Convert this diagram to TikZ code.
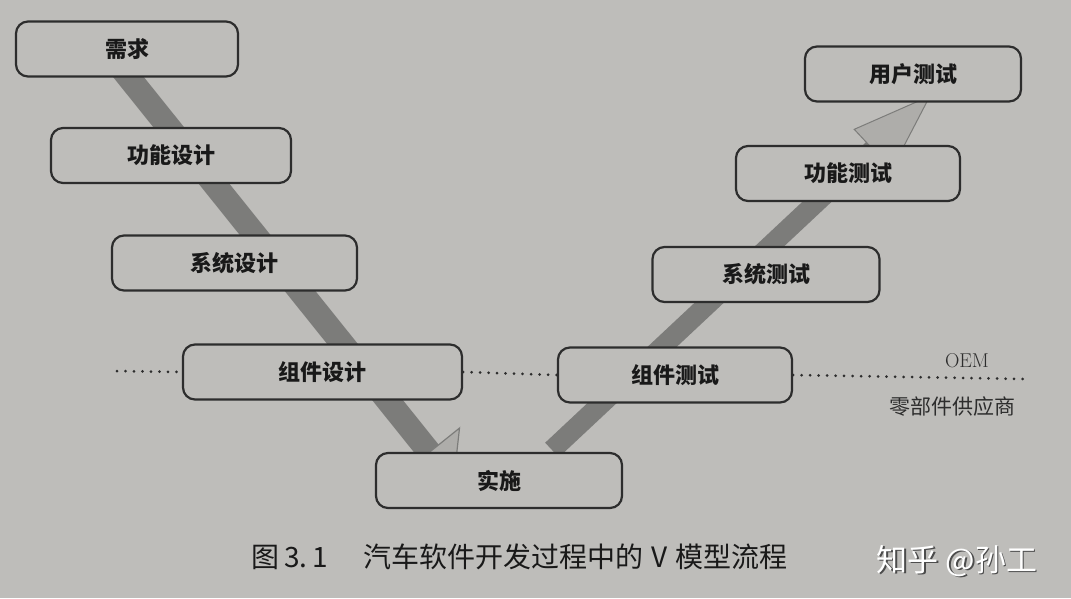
\documentclass[tikz,border=0pt]{standalone}
\usepackage{fontspec}
\newfontfamily\cjk{Noto Sans CJK SC}
\usetikzlibrary{arrows.meta,backgrounds}

\definecolor{paper}{RGB}{190,189,186}
\definecolor{ink}{RGB}{45,45,45}
\definecolor{vband}{RGB}{124,124,122}
\definecolor{vhead}{RGB}{174,173,170}

\tikzset{
  stage/.style={draw=ink, line width=2.2pt, rounded corners=12pt, fill=paper,
    minimum height=55pt, inner sep=0pt, text=black!90,
    font=\cjk\bfseries\fontsize{22}{26}\selectfont},
  oemline/.style={ink, line width=3pt, line cap=round, dash pattern=on 0pt off 8.5pt},
  vleg/.style={vband, line width=#1},
}

\begin{document}
\begin{tikzpicture}[x=1pt,y=-1pt]

	\useasboundingbox (0,0) rectangle (1071,598);
	\begin{pgfonlayer}{background}
	  \fill[paper] (0,0) rectangle (1071,598);
	\end{pgfonlayer}

	% left side of the V: design steps
	\node[stage, minimum width=222pt] (xq) at (127,49) {需求};
	\node[stage, minimum width=240pt] (gnsj) at (171,155.5) {功能设计};
	\node[stage, minimum width=245pt] (xtsj) at (234.5,263) {系统设计};
	\node[stage, minimum width=279pt] (zjsj) at (322.5,372) {组件设计};
	\node[stage, minimum width=246pt] (ss) at (499,480.5) {实施};
	% right side of the V: test steps
	\node[stage, minimum width=234pt] (zjcs) at (675,375) {组件测试};
	\node[stage, minimum width=227pt] (xtcs) at (766,274.5) {系统测试};
	\node[stage, minimum width=224pt] (gncs) at (848,173.5) {功能测试};
	\node[stage, minimum width=216pt] (yhcs) at (913,74) {用户测试};

	\path (106,49) coordinate (vL) (454,483) coordinate (vLtip);
	\path (552,450) coordinate (vR) (931,95) coordinate (vRtip);

	\begin{pgfonlayer}{background}
	  \draw[vleg=24pt, -{Triangle[length=40pt,width=80pt,line width=1.2pt,fill=vhead]}] (vL) -- (vLtip);
	  \draw[vleg=20pt, -{Triangle[length=80pt,width=56pt,line width=1pt,fill=vhead]}] (vR) -- (vRtip);
	\end{pgfonlayer}

	% OEM / supplier border
	\path (117,371) coordinate (dL) (1024,379) coordinate (dR);
	\draw[oemline] (dL) -- (zjsj.west);
	\draw[oemline] (zjsj.east) -- (zjcs.west);
	\draw[oemline] (zjcs.east) -- (dR);
	\node[text=ink, font=\fontsize{20}{24}\selectfont] (oem) at (967,361) {OEM};
	\node[text=ink, font=\cjk\fontsize{21}{25}\selectfont] (gys) at (952,407) {零部件供应商};

	\node[anchor=west, text=black!90, font=\cjk\fontsize{28}{32}\selectfont] (cap) at (248,557)
	  {图\,3.\,1\hspace{36pt}汽车软件开发过程中的\hspace{8pt}V\hspace{8pt}模型流程};

	\node[text=black!70, font=\cjk\fontsize{31}{34}\selectfont] (zhs) at (958.5,562.5) {知乎 @孙工};
	\node[text=white, font=\cjk\fontsize{31}{34}\selectfont] (zh) at (957,561) {知乎 @孙工};

\end{tikzpicture}
\end{document}
